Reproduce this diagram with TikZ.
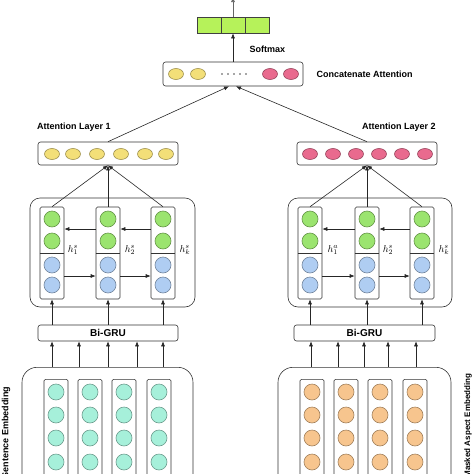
\documentclass[tikz,border=0pt]{standalone}
\usepackage{fontspec}
\setsansfont{Liberation Sans}
\usetikzlibrary{arrows.meta,shapes.geometric}

\definecolor{gruGreen}{HTML}{9BE46F}
\definecolor{gruBlue}{HTML}{AFCDF2}
\definecolor{attYellow}{HTML}{F3DF78}
\definecolor{attPink}{HTML}{E96A8E}
\definecolor{embTeal}{HTML}{A6F0DA}
\definecolor{embPeach}{HTML}{F7C58E}
\definecolor{outGreen}{HTML}{B6F25A}

\begin{document}
\begin{tikzpicture}[x=1pt, y=-1pt, line width=0.6pt,
    arr/.style={-{Latex[length=5pt,width=4pt]}, black!85},
    box/.style={draw=black!80, rounded corners=2.5pt, inner sep=0pt},
    colbox/.style={draw=black!80, rounded corners=1.5pt, minimum width=24pt, inner sep=0pt},
    ball/.style={circle, draw=#1!65!black, fill=#1, minimum size=16pt, inner sep=0pt},
    egg/.style={ellipse, draw=#1!65!black, fill=#1, minimum width=15pt, minimum height=11pt, inner sep=0pt},
    outcell/.style={draw=black!75, fill=outGreen, minimum width=24pt, minimum height=16pt, inner sep=0pt},
    lbl/.style={font=\sffamily\bfseries\fontsize{9}{10}\selectfont}]
    \useasboundingbox (0,0) rectangle (474,474);

    % output and softmax
    \node[outcell] (o1) at (209,25) {};
    \node[outcell] (o2) at (233,25) {};
    \node[outcell] (o3) at (257,25) {};
    \coordinate (yhat) at (233,-3);
    \draw[arr, black!60] (o2.north) -- (yhat);

    \node[box, minimum width=140pt, minimum height=24pt] (cat) at (233,74) {};
    \node[egg=attYellow] at (176,74) {};
    \node[egg=attYellow] at (198,74) {};
    \node[egg=attPink] at (270,74) {};
    \node[egg=attPink] at (291,74) {};
    \foreach \x in {222,228,...,246} \fill[black!70] (\x,74) circle (0.8pt);
    \node[lbl, anchor=west] (smx) at (246,49) {Softmax};
    \node[lbl, anchor=west] (catlbl) at (313,74) {Concatenate Attention};
    \draw[arr] (cat.north) -- (o2.south);

    % attention layers
    \node[box, minimum width=140pt, minimum height=23pt] (att1) at (108,153.5) {};
    \node[box, minimum width=140pt, minimum height=23pt] (att2) at (367,153.5) {};
    \foreach \x in {52,73,97,121,145,166} \node[egg=attYellow] at (\x,154) {};
    \foreach \x in {310,333,356,379,402,425} \node[egg=attPink] at (\x,154) {};
    \node[lbl] (attlbl1) at (74,127) {Attention Layer 1};
    \node[lbl] (attlbl2) at (399,127) {Attention Layer 2};
    \draw[arr] (att1.north) -- ([xshift=-4pt]cat.south);
    \draw[arr] (att2.north) -- ([xshift=3pt]cat.south);

    % Bi-GRU, sentence side
    \node[box, rounded corners=10pt, minimum width=165pt, minimum height=109pt] (bl) at (112.5,252.5) {};
    \node[colbox, minimum height=92pt] (l1) at (52,253) {};
    \node[colbox, minimum height=92pt] (l2) at (108,253) {};
    \node[colbox, minimum height=92pt] (l3) at (163,253) {};
    \foreach \c in {l1,l2,l3} {
        \draw[black!80] (\c.west) -- (\c.east);
        \node[ball=gruGreen] at (\c |- 0,219) {};
        \node[ball=gruGreen] at (\c |- 0,241) {};
        \node[ball=gruBlue] at (\c |- 0,265) {};
        \node[ball=gruBlue] at (\c |- 0,285) {};
        \draw[arr] (\c.north) -- (att1.south);
    }
    \node (hl1) at (73,250) {$h_1^s$};
    \node (hl2) at (130,250) {$h_2^s$};
    \node (hl3) at (185,250) {$h_k^s$};
    \draw[arr] (l2.west |- 0,229) -- (l1.east |- 0,229);
    \draw[arr] (l3.west |- 0,229) -- (l2.east |- 0,229);
    \draw[arr] (l1.east |- 0,276) -- (l2.west |- 0,276);
    \draw[arr] (l2.east |- 0,276) -- (l3.west |- 0,276);

    % Bi-GRU, aspect side
    \node[box, rounded corners=10pt, minimum width=164pt, minimum height=109pt] (br) at (370,252.5) {};
    \node[colbox, minimum height=92pt] (r1) at (310,253) {};
    \node[colbox, minimum height=92pt] (r2) at (367,253) {};
    \node[colbox, minimum height=92pt] (r3) at (422,253) {};
    \foreach \c in {r1,r2,r3} {
        \draw[black!80] (\c.west) -- (\c.east);
        \node[ball=gruGreen] at (\c |- 0,219) {};
        \node[ball=gruGreen] at (\c |- 0,241) {};
        \node[ball=gruBlue] at (\c |- 0,265) {};
        \node[ball=gruBlue] at (\c |- 0,285) {};
        \draw[arr] (\c.north) -- (att2.south);
    }
    \node (hr1) at (333,250) {$h_1^a$};
    \node (hr2) at (388,250) {$h_2^s$};
    \node (hr3) at (444,250) {$h_k^s$};
    \draw[arr] (r2.west |- 0,229) -- (r1.east |- 0,229);
    \draw[arr] (r3.west |- 0,229) -- (r2.east |- 0,229);
    \draw[arr] (r1.east |- 0,276) -- (r2.west |- 0,276);
    \draw[arr] (r2.east |- 0,276) -- (r3.west |- 0,276);

    % Bi-GRU bars
    \node[box, minimum width=140pt, minimum height=16pt, font=\sffamily\bfseries\fontsize{10}{11}\selectfont] (gru1) at (108,333) {Bi-GRU};
    \node[box, minimum width=141pt, minimum height=16pt, font=\sffamily\bfseries\fontsize{10}{11}\selectfont] (gru2) at (364.5,333) {Bi-GRU};
    \foreach \c in {l1,l2,l3} \draw[arr] (\c |- gru1.north) -- (\c.south);
    \foreach \c in {r1,r2,r3} \draw[arr] (\c |- gru2.north) -- (\c.south);

    % embeddings
    \node[box, rounded corners=15pt, minimum width=171pt, minimum height=140pt, anchor=north] (emb1) at (107.5,367) {};
    \node[box, rounded corners=15pt, minimum width=173pt, minimum height=140pt, anchor=north] (emb2) at (364.5,367) {};
    \foreach \x in {56,90,124,159} {
        \node[colbox, minimum height=120pt, anchor=north] at (\x,379) {};
        \foreach \y in {392,415,438,462} \node[ball=embTeal] at (\x,\y) {};
    }
    \foreach \x in {312,346,380,415} {
        \node[colbox, minimum height=120pt, anchor=north] at (\x,379) {};
        \foreach \y in {392,415,438,462} \node[ball=embPeach] at (\x,\y) {};
    }
    \foreach \x in {52,79,108,137,163} \draw[arr] (emb1.north -| \x,0) -- (gru1.south -| \x,0);
    \foreach \x in {311,338,364,388,416} \draw[arr] (emb2.north -| \x,0) -- (gru2.south -| \x,0);
    \node[lbl, rotate=90, anchor=east] (emblbl1) at (6,383) {Sentence Embedding};
    \node[lbl, rotate=90, anchor=east, font=\sffamily\bfseries\fontsize{8}{9}\selectfont] (emblbl2) at (468,370) {Masked Aspect Embedding};
\end{tikzpicture}
\end{document}
